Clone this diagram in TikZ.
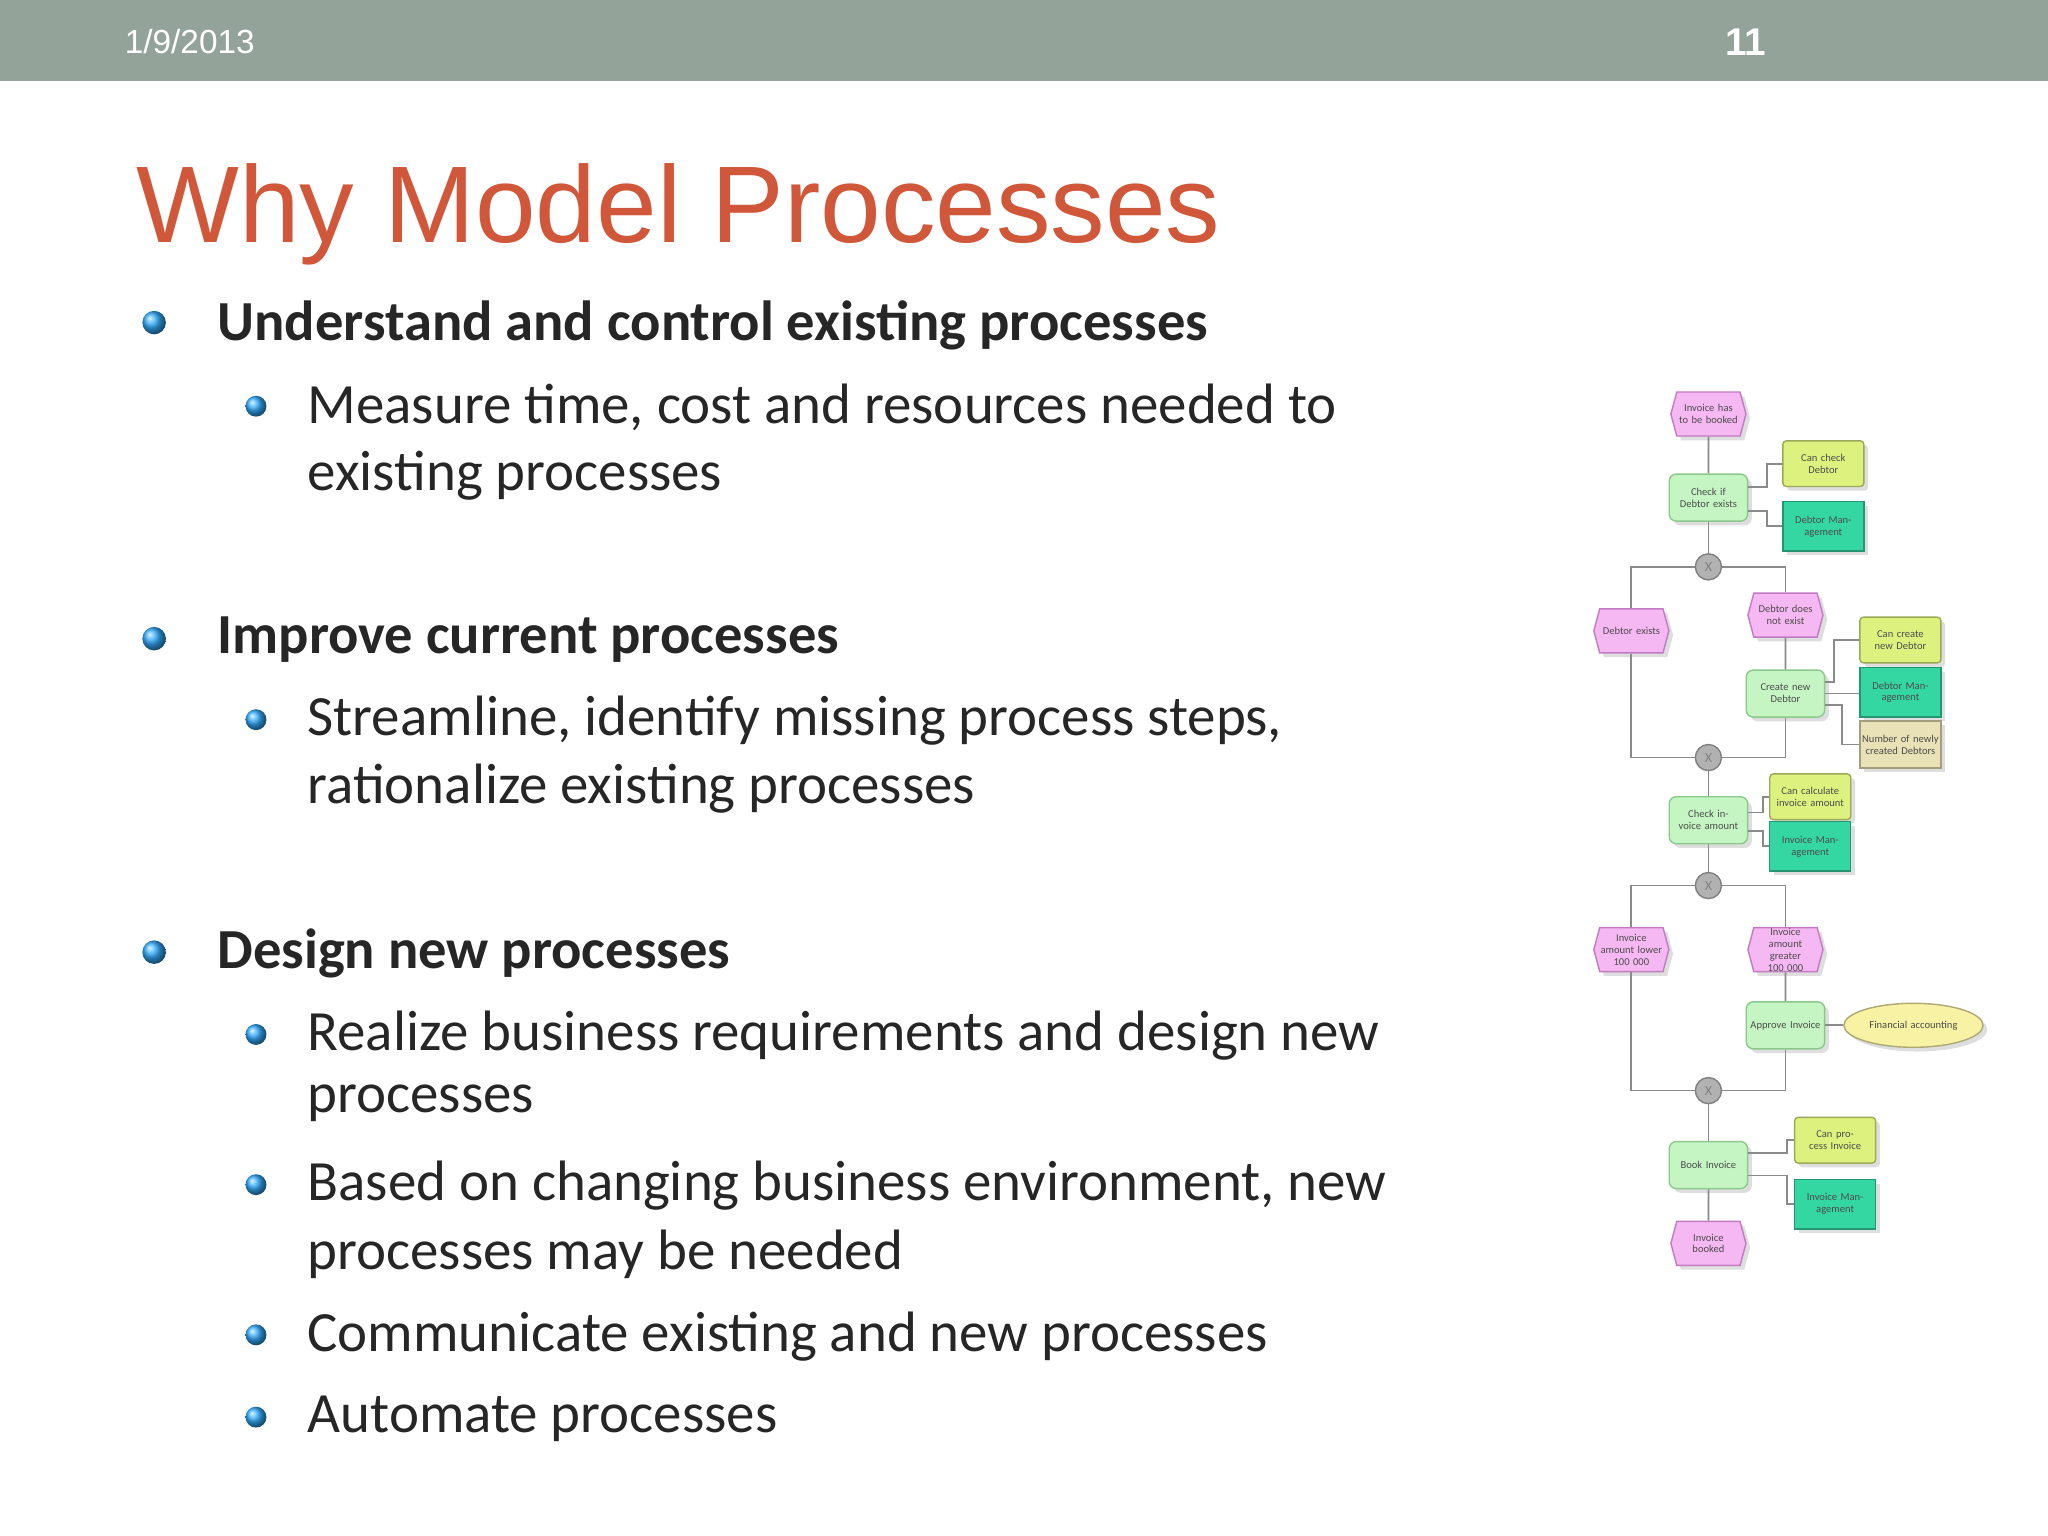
\documentclass[tikz,border=0pt]{standalone}
\usepackage{fontspec}
\setmainfont{Carlito}
\newfontfamily\titlefont{Liberation Sans}
\usetikzlibrary{shapes.symbols,shapes.geometric,shadows}
\definecolor{hdr}{HTML}{93A39A}
\definecolor{ttl}{HTML}{D0573A}
\definecolor{txt}{HTML}{262626}
\definecolor{evf}{HTML}{F6B8F2}
\definecolor{evd}{HTML}{C27AC2}
\definecolor{fnf}{HTML}{C6F5C4}
\definecolor{fnd}{HTML}{8CC88C}
\definecolor{ygf}{HTML}{DDF27E}
\definecolor{tlf}{HTML}{34D6A2}
\definecolor{tnf}{HTML}{E8E2B6}
\definecolor{elf}{HTML}{F8F2A4}
\definecolor{lnc}{HTML}{8A8A8A}
\tikzset{
  x=0.013061cm, y=-0.013061cm,
  tiny/.style={font=\fontsize{3}{3.4}\selectfont, align=center, text=black!70},
  base/.style={tiny, drop shadow={shadow xshift=1.2pt,shadow yshift=-1.2pt,fill=black!25}},
  event/.style={base, shape=signal, signal to=west and east, signal pointer angle=150, fill=evf, draw=evd, minimum width=0.72cm, minimum height=0.44cm, inner sep=0pt, text width=18pt},
  func/.style={base, rectangle, rounded corners=2pt, fill=fnf, draw=fnd, minimum width=0.784cm, minimum height=0.47cm, inner sep=0pt, text width=22pt},
  sysb/.style={base, rectangle, rounded corners=1pt, fill=ygf, draw=ygf!70!black, minimum width=0.81cm, minimum height=0.457cm, inner sep=0pt, text width=22pt},
  orgb/.style={base, rectangle, fill=tlf, draw=tlf!70!black, minimum width=0.81cm, minimum height=0.496cm, inner sep=0pt, text width=22pt},
  tanb/.style={base, rectangle, fill=tnf, draw=tnf!70!black, minimum width=0.81cm, minimum height=0.47cm, inner sep=0pt, text width=22pt},
  gate/.style={circle, fill=black!30, draw=black!50, minimum size=0.261cm, inner sep=0pt, font=\fontsize{4}{4}\selectfont, text=black!50},
  conn/.style={draw=lnc, line width=0.5pt},
  bulA/.style={circle, minimum size=0.235cm, inner sep=0pt, ball color=cyan!60!blue!80},
  bulB/.style={circle, minimum size=0.209cm, inner sep=0pt, ball color=cyan!60!blue!80},
  lvA/.style={anchor=west, text=txt, font=\fontsize{16.1}{19}\selectfont\bfseries, inner sep=0pt},
  lvB/.style={anchor=west, text=txt, font=\fontsize{16.2}{19}\selectfont, inner sep=0pt},
}
\begin{document}
\begin{tikzpicture}
\useasboundingbox (0,0) rectangle (1568,1176);
\fill[white] (0,0) rectangle (1568,1176);
\fill[hdr] (0,0) rectangle (1568,62);
\node[anchor=west, text=white, font=\titlefont\fontsize{9.5}{11}\selectfont, inner sep=0pt] (date) at (95,32) {1/9/2013};
\node[anchor=east, text=white, font=\titlefont\fontsize{11}{13}\selectfont\bfseries, inner sep=0pt] (pg) at (1353,32) {11};
\node[anchor=west, text=ttl, font=\titlefont\fontsize{31}{36}\selectfont, inner sep=0pt] (title) at (104,164) {Why Model Processes};

% bullets
\node[bulA] (b1) at (118,247) {};
\node[lvA] (t1) at (166,249) {Understand and control existing processes};
\node[bulB] (b11) at (196,311) {};
\node[lvB] (t11) at (235,312) {Measure time, cost and resources needed to};
\node[lvB] (t11b) at (235,364) {existing processes};
\node[bulA] (b2) at (118,489) {};
\node[lvA] (t2) at (166,490) {Improve current processes};
\node[bulB] (b21) at (196,551) {};
\node[lvB] (t21) at (235,552) {Streamline, identify missing process steps,};
\node[lvB] (t21b) at (235,604) {rationalize existing processes};
\node[bulA] (b3) at (118,729) {};
\node[lvA] (t3) at (166,730) {Design new processes};
\node[bulB] (b31) at (196,792) {};
\node[lvB] (t31) at (235,793) {Realize business requirements and design new};
\node[lvB] (t31b) at (235,845) {processes};
\node[bulB] (b32) at (196,907) {};
\node[lvB] (t32) at (235,908) {Based on changing business environment, new};
\node[lvB] (t32b) at (235,960) {processes may be needed};
\node[bulB] (b33) at (196,1022) {};
\node[lvB] (t33) at (235,1023) {Communicate existing and new processes};
\node[bulB] (b34) at (196,1085) {};
\node[lvB] (t34) at (235,1086) {Automate processes};

% process diagram
\node[event] (E1) at (1308,317) {Invoice has to be booked};
\node[func] (F1) at (1308,381) {Check if Debtor exists};
\node[sysb] (Y1) at (1396,355) {Can check Debtor};
\node[orgb] (D1) at (1396,403) {Debtor Management};
\node[gate] (X1) at (1308,434) {X};
\node[event] (E2) at (1249,483) {Debtor exists};
\node[event] (E3) at (1367,471) {Debtor does not exist};
\node[func] (F2) at (1367,531) {Create new Debtor};
\node[sysb] (Y2) at (1455,490) {Can create new Debtor};
\node[orgb] (D2) at (1455,530) {Debtor Management};
\node[tanb] (T1) at (1455,570) {Number of newly created Debtors};
\node[gate] (X2) at (1308,580) {X};
\node[func] (F3) at (1308,628) {Check invoice amount};
\node[sysb] (Y3) at (1386,610) {Can calculate invoice amount};
\node[orgb] (D3) at (1386,648) {Invoice Management};
\node[gate] (X3) at (1308,678) {X};
\node[event] (E4) at (1249,727) {Invoice amount lower 100 000};
\node[event] (E5) at (1367,727) {Invoice amount greater 100 000};
\node[func] (F4) at (1367,785) {Approve Invoice};
\node[ellipse, base, fill=elf, draw=elf!70!black, minimum width=1.1cm, minimum height=0.44cm, inner sep=0pt, text width=28pt] (O1) at (1465,785) {Financial accounting};
\node[gate] (X4) at (1308,835) {X};
\node[func] (F5) at (1308,892) {Book Invoice};
\node[sysb] (Y4) at (1405,873) {Can process Invoice};
\node[orgb] (D4) at (1405,922) {Invoice Management};
\node[event] (E6) at (1308,952) {Invoice booked};

\begin{scope}[conn]
\draw (E1) -- (F1);
\draw (F1) -- (X1);
\draw (X1) -| (E2);
\draw (X1) -| (E3);
\draw (E3) -- (F2);
\draw (E2) |- (X2);
\draw (F2) |- (X2);
\draw (X2) -- (F3);
\draw (F3) -- (X3);
\draw (X3) -| (E4);
\draw (X3) -| (E5);
\draw (E5) -- (F4);
\draw (E4) |- (X4);
\draw (F4) |- (X4);
\draw (X4) -- (F5);
\draw (F5) -- (E6);
\draw (F4) -- (O1);
\draw (F1.east |- 0,373) -- (1353,373) |- (Y1.west);
\draw (F1.east |- 0,391) -- (1353,391) |- (D1.west);
\draw (F2.east |- 0,522) -- (1404,522) |- (Y2.west);
\draw (F2.east |- 0,531) -- (D2.west |- 0,531);
\draw (F2.east |- 0,540) -- (1410,540) |- (T1.west);
\draw (F3.east |- 0,622) -- (1350,622) |- (Y3.west);
\draw (F3.east |- 0,636) -- (1350,636) |- (D3.west);
\draw (F5.east |- 0,883) -- (1368,883) |- (Y4.west);
\draw (F5.east |- 0,900) -- (1368,900) |- (D4.west);
\end{scope}
\end{tikzpicture}
\end{document}
